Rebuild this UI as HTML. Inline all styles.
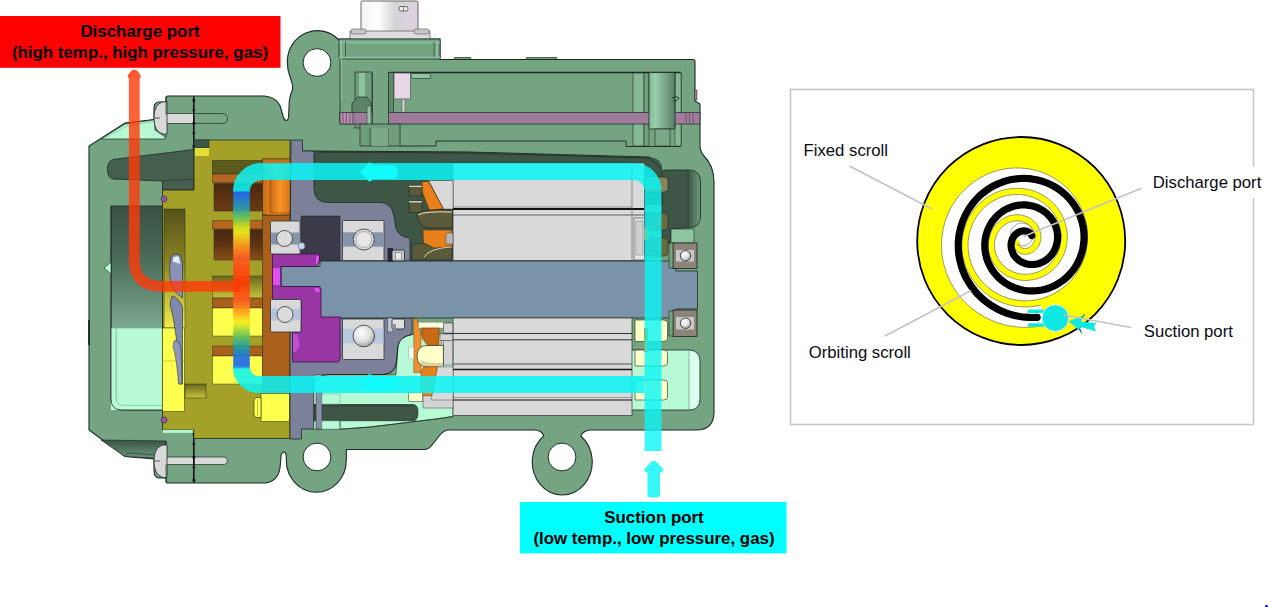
<!DOCTYPE html>
<html lang="en"><head><meta charset="utf-8"><title>Scroll compressor refrigerant flow</title>
<style>html,body{margin:0;padding:0;background:#fff;overflow:hidden}body{width:1268px;height:607px;font-family:"Liberation Sans",sans-serif}.t{font-family:"Liberation Sans",sans-serif}</style>
</head><body>
<svg width="1268" height="607" viewBox="0 0 1268 607" style="display:block">
<defs>
<linearGradient id="gConn" x1="0" y1="0" x2="1" y2="0"><stop offset="0" stop-color="#f4f4f4"/><stop offset="0.3" stop-color="#ffffff"/><stop offset="0.6" stop-color="#d4d4d8"/><stop offset="1" stop-color="#e0cfe0"/></linearGradient>
<linearGradient id="gCham" x1="0" y1="0" x2="0" y2="1"><stop offset="0" stop-color="#3a5244"/><stop offset="0.25" stop-color="#4a6a58"/><stop offset="1" stop-color="#b2f0cc"/></linearGradient>
<linearGradient id="gOlv" x1="0" y1="0" x2="0" y2="1"><stop offset="0" stop-color="#55521a"/><stop offset="0.45" stop-color="#8a8424"/><stop offset="1" stop-color="#f4ee4a"/></linearGradient>
<linearGradient id="gOlv2" x1="0" y1="0" x2="0" y2="1"><stop offset="0" stop-color="#6a661e"/><stop offset="1" stop-color="#c8c23a"/></linearGradient>
<linearGradient id="gOr" x1="0" y1="0" x2="1" y2="0"><stop offset="0" stop-color="#c86a14"/><stop offset="0.5" stop-color="#f89426"/><stop offset="1" stop-color="#d87618"/></linearGradient>
<linearGradient id="gWedge" x1="0" y1="0" x2="0" y2="1"><stop offset="0" stop-color="#3a5244"/><stop offset="1" stop-color="#6a987a"/></linearGradient>
<linearGradient id="gFlow" x1="0" y1="190" x2="0" y2="370" gradientUnits="userSpaceOnUse">
<stop offset="0" stop-color="#22e8f0"/><stop offset="0.012" stop-color="#2268f0"/><stop offset="0.05" stop-color="#2080d8"/><stop offset="0.10" stop-color="#2a9cb0"/><stop offset="0.15" stop-color="#60c060"/><stop offset="0.20" stop-color="#c8e020"/><stop offset="0.235" stop-color="#f4f01c"/><stop offset="0.31" stop-color="#ff9a20"/><stop offset="0.38" stop-color="#ff5c20"/><stop offset="0.51" stop-color="#ff3a00"/><stop offset="0.61" stop-color="#ff5c20"/><stop offset="0.67" stop-color="#ff9a20"/><stop offset="0.735" stop-color="#f4f01c"/><stop offset="0.80" stop-color="#78c850"/><stop offset="0.87" stop-color="#20a0a0"/><stop offset="0.93" stop-color="#2070e0"/><stop offset="0.975" stop-color="#2268f0"/><stop offset="1" stop-color="#22f0e0"/></linearGradient>
<linearGradient id="gCavR" x1="0" y1="0" x2="1" y2="0"><stop offset="0" stop-color="#3e5646"/><stop offset="1" stop-color="#6a987a"/></linearGradient>
<linearGradient id="gBr1" x1="0" y1="0" x2="0" y2="1"><stop offset="0" stop-color="#4a2810"/><stop offset="1" stop-color="#6a3c14"/></linearGradient>
<linearGradient id="gBr2" x1="0" y1="0" x2="0" y2="1"><stop offset="0" stop-color="#4a2810"/><stop offset="0.5" stop-color="#5e3412"/><stop offset="1" stop-color="#8a5018"/></linearGradient>
<linearGradient id="gCyl" x1="0" y1="0" x2="1" y2="0"><stop offset="0" stop-color="#86b896"/><stop offset="0.25" stop-color="#98ceac"/><stop offset="1" stop-color="#587e66"/></linearGradient>
<radialGradient id="gBall" cx="0.4" cy="0.35" r="0.7"><stop offset="0" stop-color="#ffffff"/><stop offset="0.6" stop-color="#dcdcdc"/><stop offset="1" stop-color="#9a9a9a"/></radialGradient>
</defs>
<path d="M89,430 L89,146 L125,123 L154,119.5 L154,108 Q154,102 159,102 L166,102 L166,98 Q166,96 168,96 L264,96 Q276,97 280,105.5 L283.3,117 Q284.5,120.5 286.4,120.5 Q288.2,120.5 288.6,116 L289.3,101 Q290.2,95 292.6,89 C293.5,80 286.8,76 287.3,61 A30.2,31.3 0 0 1 339,40 L339,39 L440,39 L440,59.5 L693,59.5 Q695,59.5 695,61.5 L695,101 L700,104 L700,146 Q700,151 704,156 Q714,166 714,182 L714,412 Q714,430 696,430 L592,430 Q583,430 580.8,436 A30,33 0 1 1 543.7,436 Q542,430 534,430 L449,430 Q444,430 440,435 L432,445 Q429,449.5 424,449.5 L346.3,449.5 L346.3,460 A30,32.3 0 0 1 286.3,460 L286.3,455.5 Q285.5,451.8 283.3,452 Q281,453 281,457 L280,468 Q278,481 266,483 L168,483 Q166,483 166,481 L166,478 L159,478 Q154,478 154,470 L154,459 L125,456.5 Z" fill="#74a482" stroke="#1c2a22" stroke-width="1.1" />
<circle cx="317" cy="62.5" r="13.9" fill="#fff" stroke="#1c2a22" stroke-width="1"/>
<circle cx="317" cy="457" r="13.9" fill="#fff" stroke="#1c2a22" stroke-width="1"/>
<circle cx="562" cy="457" r="13.9" fill="#fff" stroke="#1c2a22" stroke-width="1"/>
<rect x="361" y="1" width="57" height="34" fill="url(#gConn)" rx="1.5" stroke="#444" stroke-width="0.8" />
<rect x="350" y="31" width="80" height="8" fill="#dcdcdc" stroke="#555" stroke-width="0.7" />
<rect x="351" y="29" width="15" height="5" fill="#c8c8c8" rx="2" stroke="#555" stroke-width="0.6" />
<rect x="414" y="29" width="15" height="5" fill="#c8c8c8" rx="2" stroke="#555" stroke-width="0.6" />
<rect x="399" y="6.5" width="9" height="4.5" fill="#eee" rx="2" stroke="#333" stroke-width="0.7" />
<line x1="403.5" y1="6.5" x2="403.5" y2="11" stroke="#333" stroke-width="0.6"/>
<rect x="339" y="39" width="101" height="20" fill="#74a482" rx="1.5" stroke="#1c2a22" stroke-width="0.8" />
<line x1="339" y1="42.5" x2="440" y2="42.5" stroke="#8fc4a2" stroke-width="1.6"/>
<line x1="341" y1="40" x2="341" y2="100" stroke="#8fc4a2" stroke-width="1.6"/>
<line x1="345.5" y1="42" x2="345.5" y2="58" stroke="#1c2a22" stroke-width="0.6"/>
<line x1="434" y1="42" x2="434" y2="58" stroke="#1c2a22" stroke-width="0.6"/>
<line x1="437" y1="42" x2="437" y2="58" stroke="#8fc4a2" stroke-width="1.5"/>
<line x1="339" y1="57.5" x2="440" y2="57.5" stroke="#8fc4a2" stroke-width="1.4"/>
<line x1="389" y1="72.5" x2="681" y2="72.5" stroke="#1c2a22" stroke-width="1.3"/>
<line x1="681" y1="72.5" x2="681" y2="146" stroke="#1c2a22" stroke-width="0.8"/>
<line x1="340" y1="59" x2="340" y2="124" stroke="#1c2a22" stroke-width="0.8"/>
<rect x="355" y="72" width="17" height="56" fill="#6e9c7c" stroke="#1c2a22" stroke-width="0.7" />
<rect x="359" y="73" width="6" height="39" fill="#8fc4a2" />
<path d="M352,112 L352,103 L358,97 L367,97 L371,103 L371,112" fill="#5c8468" stroke="#1c2a22" stroke-width="0.7" />
<rect x="388.5" y="72.5" width="5" height="55.5" fill="#5f8a6c" stroke="#1c2a22" stroke-width="0.6" />
<rect x="394" y="73" width="16.5" height="26" fill="#e6d6e6" stroke="#555" stroke-width="0.7" />
<rect x="402" y="99" width="3" height="13" fill="#d0d0d0" stroke="#555" stroke-width="0.5" />
<path d="M411,73.5 L430,73.5 Q431.5,76 430,78.5 L413,78.5 Q411,78 411,75z" fill="#8fc4a2" stroke="#1c2a22" stroke-width="0.6" />
<rect x="633" y="73" width="11" height="73" fill="#86b896" stroke="#1c2a22" stroke-width="0.6" />
<rect x="644" y="73" width="5" height="73" fill="#6e9c7c" stroke="#1c2a22" stroke-width="0.5" />
<rect x="675" y="73" width="6" height="73" fill="#86b896" stroke="#1c2a22" stroke-width="0.5" />
<rect x="340" y="112.5" width="360" height="11.5" fill="#a07c9c" stroke="#1c2a22" stroke-width="0.7" />
<path d="M340,112.5 h13 v11.5 h-13 z" fill="#b58db0" stroke="#1c2a22" stroke-width="0.6" />
<line x1="343" y1="112.5" x2="343" y2="124" stroke="#6a4c66" stroke-width="0.8"/>
<line x1="346.5" y1="112.5" x2="346.5" y2="124" stroke="#6a4c66" stroke-width="0.8"/>
<line x1="350" y1="112.5" x2="350" y2="124" stroke="#6a4c66" stroke-width="0.8"/>
<line x1="686" y1="112.5" x2="686" y2="124" stroke="#6a4c66" stroke-width="0.8"/>
<line x1="689.5" y1="112.5" x2="689.5" y2="124" stroke="#6a4c66" stroke-width="0.8"/>
<line x1="693" y1="112.5" x2="693" y2="124" stroke="#6a4c66" stroke-width="0.8"/>
<rect x="367" y="106" width="4" height="22" fill="#8fc4a2" stroke="#1c2a22" stroke-width="0.5" />
<rect x="372.5" y="73" width="16" height="55" fill="#74a482" />
<line x1="372.5" y1="73" x2="372.5" y2="128" stroke="#1c2a22" stroke-width="0.7"/>
<line x1="388.5" y1="73" x2="388.5" y2="128" stroke="#1c2a22" stroke-width="0.7"/>
<rect x="360" y="124" width="40" height="22" fill="#6e9c7c" stroke="#1c2a22" stroke-width="0.7" />
<line x1="370" y1="128" x2="370" y2="146" stroke="#1c2a22" stroke-width="0.6"/>
<line x1="388" y1="128" x2="388" y2="146" stroke="#1c2a22" stroke-width="0.6"/>
<rect x="372" y="128" width="16" height="18" fill="#7aa888" />
<path d="M400,146 L436,146 L436,141 L626,141 L626,146.5 L681,146.5" fill="none" stroke="#1c2a22" stroke-width="0.9" />
<rect x="649" y="72.5" width="26" height="56.5" fill="url(#gCyl)" rx="1" stroke="#1c2a22" stroke-width="0.8" />
<rect x="655" y="129" width="15" height="17" fill="#7aa888" stroke="#1c2a22" stroke-width="0.6" />
<path d="M672,98 q4,-3 7,0 q-2,4 -6,3" fill="none" stroke="#1c2a22" stroke-width="0.9" />
<rect x="694.5" y="90" width="2.5" height="10" fill="#a07c9c" stroke="#1c2a22" stroke-width="0.5" />
<path d="M454,59 l0.5,-1.5 h16 l0.5,1.5 M526,59 l0.5,-1.5 h30 l0.5,1.5" fill="#74a482" stroke="#1c2a22" stroke-width="0.7" />
<path d="M314,151 L470,152 L650,157 Q660,158 662,166 L662,205 L453,205 L453,261 L314,261 Z" fill="#3e5646" />
<line x1="302.5" y1="151" x2="470" y2="152" stroke="#1c2a22" stroke-width="1"/>
<line x1="470" y1="152" x2="650" y2="157" stroke="#1c2a22" stroke-width="0.9"/>
<path d="M318,152 L470,153 L650,158" fill="none" stroke="#2a3c30" stroke-width="1.5" />
<path d="M662,172 Q662,170 665,170 L690,170 Q700.5,171 700.5,182 L700.5,216 Q700.5,227.5 690,227.5 L671,229 L671,243 L662,243 Z" fill="#3e5646" stroke="#1c2a22" stroke-width="0.8" />
<path d="M688,170.5 L690,170.5 Q700,171.5 700,182 L700,216 Q700,227 690,227 L688,227 Z" fill="url(#gCavR)" />
<line x1="688" y1="171" x2="688" y2="227" stroke="#2c3e32" stroke-width="0.8"/>
<path d="M662,169.5 L650,158" fill="none" stroke="#1c2a22" stroke-width="0.8" />
<path d="M671,229 L694,229 L694,243 L671,243 Z" fill="#8fc4a2" stroke="#1c2a22" stroke-width="0.6" />
<path d="M630,350 L690,350 Q700,351 700,361 L700,399 Q700,410 689,410 L630,410 Z" fill="#b9fad6" stroke="#1c2a22" stroke-width="0.8" />
<path d="M689,351 L690,351 Q699,352 699,361 L699,399 Q699,409 689,409 Z" fill="#dcfff0" />
<line x1="689" y1="351" x2="689" y2="409" stroke="#6a9c80" stroke-width="0.7"/>
<path d="M101,139 L125,124 L154.5,119.8 L155,130 L166,137.5 L164,139 Z" fill="#b9fad6" stroke="#1c2a22" stroke-width="0.7" />
<path d="M104,138.5 L127,126 L154,121.5" fill="none" stroke="#8ccca8" stroke-width="0.9" />
<path d="M113,159.5 L194,149.5 L194,190 L162.5,190 L162.5,181 L113,179 Q107.5,178 107.5,169.5 Q107.5,161 113,159.5 Z" fill="#455f4e" stroke="#1c2a22" stroke-width="0.8" />
<path d="M162.5,181 L194,179" fill="none" stroke="#2c3e32" stroke-width="0.8" />
<path d="M111,206 L162.5,206 L162.5,410 L122,410 Q111,410 111,399 Z" fill="url(#gCham)" stroke="#1c2a22" stroke-width="0.8" />
<rect x="111" y="328" width="51.5" height="82" fill="#b9fad6" />
<path d="M111,328 L162.5,328" fill="none" stroke="#7ab894" stroke-width="0.8" />
<path d="M111,399 Q111,410 122,410 L162.5,410 L162.5,400 L122,400 Z" fill="#b9fad6" />
<line x1="116.5" y1="328" x2="116.5" y2="402" stroke="#8ccca8" stroke-width="0.9"/>
<path d="M111,206 L111,399 Q111,410 122,410 L162.5,410" fill="none" stroke="#1c2a22" stroke-width="0.8" />
<path d="M116,330 L116,398 Q116,405.5 124,405.5 L162,405.5" fill="none" stroke="#8ccca8" stroke-width="0.9" />
<path d="M111,262 L104,268 L111,274 Z" fill="#b9fad6" stroke="#1c2a22" stroke-width="0.6" />
<line x1="89" y1="320" x2="89" y2="345" stroke="#111" stroke-width="1.4"/>
<path d="M101,440 L166,441 L166,446 L155,458 L125,456.5 Z" fill="url(#gWedge)" stroke="#1c2a22" stroke-width="0.7" />
<path d="M125,456.5 L128,453 L155,455" fill="none" stroke="#2c3e32" stroke-width="0.7" />
<line x1="166" y1="119.5" x2="166" y2="137.5" stroke="#1c2a22" stroke-width="0.7"/>
<rect x="166" y="113.6" width="28" height="9.8" fill="#d9d9d9" stroke="#1c2a22" stroke-width="0.7" />
<path d="M194,113.6 L222.5,113.6 Q227.5,113.6 227.5,118.5 Q227.5,123.4 222.5,123.4 L194,123.4" fill="#78a886" stroke="#1c2a22" stroke-width="0.7" />
<path d="M167,101.8 L163,101.8 Q154,104 154,118 Q154,132 163,134 L167,134 Z" fill="#d9d9d9" stroke="#1c2a22" stroke-width="0.8" />
<line x1="154" y1="118" x2="160" y2="118" stroke="#1c2a22" stroke-width="0.7"/>
<rect x="166" y="457" width="28" height="7.5" fill="#d9d9d9" stroke="#1c2a22" stroke-width="0.7" />
<path d="M194,457 L224,457 Q227.5,457 227.5,460.7 Q227.5,464.5 224,464.5 L194,464.5 Z" fill="#d9d9d9" stroke="#1c2a22" stroke-width="0.7" />
<path d="M167,445 L163,445 Q154,447 154,461 Q154,475 163,477.5 L167,477.5 Z" fill="#d9d9d9" stroke="#1c2a22" stroke-width="0.8" />
<line x1="154" y1="461" x2="160" y2="461" stroke="#1c2a22" stroke-width="0.7"/>
<line x1="166" y1="96.5" x2="166" y2="114.5" stroke="#1c2a22" stroke-width="0.7"/>
<line x1="166" y1="464.5" x2="166" y2="482" stroke="#1c2a22" stroke-width="0.7"/>
<path d="M193.8,96.5 L193.8,150" fill="none" stroke="#0a0a0a" stroke-width="1.5" />
<path d="M193.8,430 L193.8,482.5" fill="none" stroke="#0a0a0a" stroke-width="1.5" />
<path d="M193.9,99 L193.9,150 M193.9,433 L193.9,482" fill="none" stroke="#0a0a0a" stroke-width="2.6" stroke-dasharray="2.5 8 1.5 11"/>
<path d="M166,441 L166,445 M162.5,430 L193.8,430" fill="none" stroke="#1c2a22" stroke-width="0.8" />
<path d="M194,140 L290,140 L290,438.5 L193.8,438.5 L193.8,430 L162.5,430 L162.5,190 L194,190 Z" fill="#a5a028" stroke="#1c2a22" stroke-width="0.8" />
<rect x="194" y="140" width="15" height="8" fill="#3e5646" stroke="#1c2a22" stroke-width="0.5" />
<rect x="195" y="148" width="14" height="8" fill="#e4de3a" />
<rect x="164" y="209" width="21" height="119" fill="url(#gOlv)" stroke="#1c2a22" stroke-width="0.5" />
<rect x="162.5" y="328" width="22" height="83.5" fill="#ffff4d" stroke="#1c2a22" stroke-width="0.5" />
<line x1="162.5" y1="361" x2="184" y2="361" stroke="#b8b430" stroke-width="0.7"/>
<rect x="185" y="384" width="21" height="14" fill="url(#gOlv2)" stroke="#1c2a22" stroke-width="0.5" />
<rect x="162.8" y="430" width="30.2" height="3" fill="#b9fad6" stroke="#7ab894" stroke-width="0.4" />
<circle cx="164" cy="199" r="3" fill="#a050b0" stroke="#1c2a22" stroke-width="0.6"/>
<circle cx="164" cy="420" r="3" fill="#a050b0" stroke="#1c2a22" stroke-width="0.6"/>
<path d="M171,257 Q175,252 180,255 L182.5,262 L182.5,298 Q176,294 171.5,286 Q168,272 171,257 Z" fill="#8a90b8" stroke="#1c2a22" stroke-width="0.6" />
<path d="M173,258 Q176,255 179,257 L180,264 Q176,262 173,262 Z" fill="#e8ecff" />
<path d="M172,296 Q178,297 182.5,307 L182.5,384 L179.5,384 Q177.5,330 170,304 Z" fill="#8088b0" stroke="#1c2a22" stroke-width="0.6" />
<path d="M174,341 Q178,339 181,347 L182,384 L178.5,384 Q176.5,356 173,347 Z" fill="#9096be" stroke="#1c2a22" stroke-width="0.5" />
<rect x="212.5" y="160.5" width="50" height="13.5" fill="#5c5a1c" stroke="#1c2a22" stroke-width="0.5" />
<rect x="212.5" y="174" width="50" height="8.8" fill="#b5651d" stroke="#1c2a22" stroke-width="0.4" />
<rect x="214" y="183.5" width="48.5" height="27.5" fill="url(#gBr1)" stroke="#1c2a22" stroke-width="0.5" />
<rect x="212.5" y="220.5" width="50" height="8.5" fill="#b5651d" stroke="#1c2a22" stroke-width="0.4" />
<rect x="214" y="229.5" width="48.5" height="30.5" fill="url(#gBr2)" stroke="#1c2a22" stroke-width="0.5" />
<rect x="212.5" y="276" width="50" height="22" fill="url(#gOlv2)" stroke="#1c2a22" stroke-width="0.4" />
<rect x="212.5" y="298" width="50" height="10" fill="#a8601a" stroke="#1c2a22" stroke-width="0.4" />
<rect x="212.5" y="308" width="50" height="28" fill="#ffff4d" stroke="#1c2a22" stroke-width="0.4" />
<rect x="212.5" y="346" width="50" height="10" fill="#a8601a" stroke="#1c2a22" stroke-width="0.4" />
<rect x="212.5" y="356" width="50" height="28" fill="#ffff4d" stroke="#1c2a22" stroke-width="0.4" />
<rect x="262.5" y="215" width="27.5" height="177" fill="#a8601a" stroke="#1c2a22" stroke-width="0.5" />
<rect x="262.5" y="159" width="27.5" height="56" fill="url(#gOr)" stroke="#1c2a22" stroke-width="0.6" />
<rect x="262.5" y="159" width="27.5" height="5" fill="#c87018" stroke="#1c2a22" stroke-width="0.4" />
<rect x="270" y="178" width="20" height="35" fill="url(#gOr)" rx="2" stroke="#7a4210" stroke-width="0.6" />
<rect x="261" y="393.5" width="28.5" height="28" fill="#ffff4d" stroke="#1c2a22" stroke-width="0.5" />
<path d="M261,397.5 L257,397.5 Q254,397.5 254,401 L254,414 Q254,417.5 257,417.5 L261,417.5 Z" fill="#ffff4d" stroke="#1c2a22" stroke-width="0.6" />
<line x1="257.5" y1="399.5" x2="257.5" y2="415.5" stroke="#a8a430" stroke-width="0.7"/>
<path d="M291,140 L302.5,140 L302.5,151 L314,151 L314,188 Q314,202.5 328,202.5 L381,202.5 Q391,203 393.5,214 L396,228 Q398,236.5 410,238 L410,261 L290,261 Z" fill="#7c8098" stroke="#1c2a22" stroke-width="0.8" />
<path d="M290,362 L290,439 L301.5,439 L301.5,429 L313.8,429 L313.8,390 Q314,375 328,374.5 L383,374.5 Q395,374 396.5,362 L398,346 Q399.5,337 412,334.5 L412,318 L290,318 Z" fill="#7c8098" stroke="#1c2a22" stroke-width="0.8" />
<rect x="301" y="216" width="39" height="45" fill="#3a3a48" stroke="#1c2a22" stroke-width="0.5" />
<path d="M281,266.5 L320,266.5 L320,261 L672,261 L672,268 L676,268 L676,271 L697.5,271 L697.5,309 L676,309 L676,311 L672,311 L672,318 L320,318 L320,286.5 L281,286.5 Z" fill="#7b93a9" stroke="#1c2a22" stroke-width="0.8" />
<path d="M272.5,254 L319.5,254 L319.5,262 L316,266.5 L281,266.5 L281,286.5 L319.5,286.5 L321,289 L321,317 L340,317 L340,360 L338,362 L292.5,362 L292.5,332 L301,332 L301,299.5 L272.5,299.5 Z" fill="#9a35a5" stroke="#3a1040" stroke-width="0.8" />
<path d="M273,268 L280,268 L280,285 L273,285 Z" fill="#e04ff0" />
<path d="M316,256 L319,256 L319,261 L316,265 Z" fill="#e04ff0" />
<path d="M314,288 L319,288 L320,292 L316,292 Z" fill="#e04ff0" />
<path d="M293,334 L297,334 L300,345 L296,352 L293,352 Z" fill="#c04fd0" />
<rect x="270.5" y="221" width="29.5" height="33" fill="#d9d9d9" rx="1.2" stroke="#333" stroke-width="0.8" />
<rect x="271.1" y="232.56" width="28.3" height="11.88" fill="#8494aa" />
<circle cx="284.5" cy="238.5" r="8" fill="#dcdcdc" stroke="#333" stroke-width="0.8"/>
<rect x="270.5" y="299.5" width="30.5" height="32.5" fill="#d9d9d9" rx="1.2" stroke="#333" stroke-width="0.8" />
<rect x="271.1" y="308.65" width="29.3" height="11.7" fill="#b4c4dc" />
<circle cx="285" cy="314.5" r="8" fill="#dcdcdc" stroke="#333" stroke-width="0.8"/>
<circle cx="301.5" cy="246" r="3.5" fill="#c8d4ee" stroke="#556" stroke-width="0.5"/>
<rect x="342.5" y="220.5" width="41.5" height="40" fill="#d9d9d9" rx="1.2" stroke="#333" stroke-width="0.8" />
<rect x="343.1" y="232.3" width="40.3" height="14.4" fill="#8494aa" />
<circle cx="363.8" cy="239.5" r="10.5" fill="#dcdcdc" stroke="#333" stroke-width="0.8"/>
<circle cx="363.8" cy="239.5" r="8" fill="#e6e6e6" stroke="#888" stroke-width="0.6"/>
<rect x="342.5" y="319" width="41.5" height="40.5" fill="#d9d9d9" rx="1.2" stroke="#333" stroke-width="0.8" />
<rect x="343.1" y="328.71" width="40.3" height="14.58" fill="#b8c8e0" />
<circle cx="363.8" cy="336" r="10.8" fill="url(#gBall)" stroke="#333" stroke-width="0.8"/>
<rect x="387.5" y="248" width="5.5" height="14" fill="#2a2a34" />
<rect x="392" y="250" width="12.5" height="11" fill="#c8c8c8" rx="2" stroke="#222" stroke-width="0.8" />
<rect x="395.5" y="252.5" width="6" height="7.5" fill="#e8e8e8" stroke="#555" stroke-width="0.5" />
<rect x="387.5" y="318" width="5.5" height="14" fill="#b8c4dc" stroke="#333" stroke-width="0.5" />
<rect x="392" y="319" width="12.5" height="10" fill="#e0e0e0" rx="1.5" stroke="#222" stroke-width="0.8" />
<rect x="393" y="324" width="3" height="6" fill="#909090" />
<path d="M313.8,375 L396,375 L398,346 Q399.5,337 412,334.5 L420,334.5 L453,334.5 L453,416.5 L436,419 L370,427 L340,429.5 L313.8,429.5 Z" fill="#b9fad6" stroke="#1c2a22" stroke-width="0.6" />
<path d="M313.8,390 Q314,375 328,374.5 L383,374.5 Q395,374 396.5,362 L398,346 Q399.5,337 412,334.5" fill="none" stroke="#1c2a22" stroke-width="0.8" />
<path d="M314,404.5 L413,404.5 Q418,404.5 418,412.5 Q418,420.7 413,420.7 L314,420.7 Z" fill="#3e5646" stroke="#1c2a22" stroke-width="0.7" />
<path d="M314,406 L412,406" fill="none" stroke="#2a3a30" stroke-width="1.2" />
<rect x="316" y="392" width="6" height="37" fill="#8a90a8" stroke="#1c2a22" stroke-width="0.5" />
<rect x="322" y="394" width="18" height="10" fill="#b9fad6" stroke="#7ab894" stroke-width="0.6" />
<rect x="322" y="421" width="18" height="8" fill="#b9fad6" stroke="#7ab894" stroke-width="0.6" />
<path d="M340,420.7 L340,429 M340,429 L370,427 L436,419 L453,416.5" fill="none" stroke="#1c2a22" stroke-width="0.7" />
<rect x="453" y="163" width="191.5" height="97.5" fill="#d9d9d9" stroke="#333" stroke-width="0.7" />
<rect x="453" y="318" width="179" height="97.5" fill="#d9d9d9" stroke="#333" stroke-width="0.7" />
<line x1="453" y1="209" x2="644" y2="209" stroke="#111" stroke-width="1.8"/>
<line x1="453" y1="215" x2="644" y2="215" stroke="#444" stroke-width="0.8"/>
<line x1="453" y1="207" x2="632" y2="207" stroke="#666" stroke-width="0.6"/>
<line x1="632" y1="163" x2="632" y2="260" stroke="#666" stroke-width="0.7"/>
<rect x="634" y="218" width="10.5" height="42" fill="#e4e4e4" stroke="#555" stroke-width="0.7" />
<rect x="636" y="221" width="7" height="34" fill="#d0d0d0" stroke="#777" stroke-width="0.5" />
<line x1="444" y1="333.5" x2="632" y2="333.5" stroke="#333" stroke-width="1"/>
<line x1="444" y1="339.8" x2="632" y2="339.8" stroke="#333" stroke-width="1"/>
<line x1="453" y1="364" x2="632" y2="364" stroke="#444" stroke-width="0.9"/>
<line x1="453" y1="369.5" x2="632" y2="369.5" stroke="#111" stroke-width="1.3"/>
<line x1="453" y1="400" x2="632" y2="400" stroke="#111" stroke-width="1.2"/>
<line x1="453" y1="397.5" x2="632" y2="397.5" stroke="#777" stroke-width="0.6"/>
<rect x="444" y="323" width="9" height="10" fill="#cfcfcf" stroke="#444" stroke-width="0.6" />
<rect x="441" y="340" width="12" height="20" fill="#cfcfcf" stroke="#444" stroke-width="0.6" />
<rect x="423" y="392" width="30" height="16" fill="#d4d4d4" stroke="#555" stroke-width="0.6" />
<path d="M428.6,180.5 L453,180.5 L453,209 L443.4,209 Z" fill="#d9d9d9" stroke="#444" stroke-width="0.5" />
<path d="M422,181.5 L428.6,181.5 L443.4,208.7 L429.4,210.4 L422,191.4 Z" fill="#e8801c" stroke="#5a300a" stroke-width="0.7" />
<rect x="409" y="185.5" width="13" height="10.5" fill="#5a5a3a" stroke="#1c2a22" stroke-width="0.6" />
<rect x="409" y="201" width="13" height="11.5" fill="#5a5a3a" stroke="#1c2a22" stroke-width="0.6" />
<line x1="409" y1="186.3" x2="422" y2="186.3" stroke="#e8e8d8" stroke-width="1.2"/>
<line x1="409" y1="201.8" x2="422" y2="201.8" stroke="#e8e8d8" stroke-width="1.2"/>
<path d="M417,215 Q420,210 432,210 L452.5,210 L452.5,228 L428,228 Q418,226 417,215 Z" fill="#5a5a3a" stroke="#1c2a22" stroke-width="0.7" />
<path d="M418,215 Q424,211 452,212" fill="none" stroke="#e8e8c0" stroke-width="1" />
<path d="M423,230 L452,230 L452,246 L432,249 L424,256 Z" fill="#e8801c" stroke="#5a300a" stroke-width="0.6" />
<path d="M412,245 L424,243 L434,248 L452,248 L452,260 L412,260 Z" fill="#5a5a3a" stroke="#1c2a22" stroke-width="0.6" />
<path d="M424,257 Q430,248 452,247" fill="none" stroke="#e8e8c0" stroke-width="0.9" />
<rect x="446" y="233" width="7" height="11" fill="#b8b8b8" stroke="#444" stroke-width="0.5" />
<path d="M413.8,319 L417,319 L421,334 L421,372.6 L413.8,372.6 Z" fill="#f09030" stroke="#7a4210" stroke-width="0.5" />
<rect x="418.7" y="322.4" width="24.7" height="5.6" fill="#fffde0" stroke="#998" stroke-width="0.4" />
<path d="M422,328 L439,328 L439,346 L428,346 L422,338 Z" fill="#c86a14" stroke="#5a300a" stroke-width="0.5" />
<rect x="443.4" y="323" width="9.4" height="10" fill="#d4d4d4" stroke="#444" stroke-width="0.5" />
<rect x="440" y="334" width="12.8" height="6.5" fill="#d4d4d4" stroke="#444" stroke-width="0.5" />
<rect x="443.4" y="340.5" width="9.4" height="24.5" fill="#d4d4d4" stroke="#444" stroke-width="0.5" />
<path d="M417,356 Q417,345.4 428,345.4 L443.4,345.4 L443.4,366.8 L428,366.8 Q417,366.8 417,356 Z" fill="#ffffc8" stroke="#1c2a22" stroke-width="0.7" />
<path d="M420,360 Q428,364 443,362.5 L443,366.5 L428,366.5 Q421,366 420,360 Z" fill="#d8d49a" />
<path d="M423.6,366.8 L437.6,366.8 L432,395.7 L421,395.7 L421,372.6 Z" fill="#e8801c" stroke="#5a300a" stroke-width="0.5" />
<path d="M432,395.7 L437.6,366.8 L453,366.8 L453,400 L431,400 Z" fill="#d9d9d9" stroke="#555" stroke-width="0.5" />
<rect x="408.8" y="347" width="5" height="11.6" fill="#f4fff8" stroke="#8a8" stroke-width="0.4" />
<rect x="408.8" y="392.4" width="14" height="9" fill="#ffffc8" stroke="#1c2a22" stroke-width="0.5" />
<path d="M645,177 L664,177 Q668,177 668,180 L668,189 Q668,192 664,192 L645,192 Z" fill="#8a8458" stroke="#1c2a22" stroke-width="0.6" />
<path d="M645,213 L664,213 Q668,213 668,216 L668,227 Q668,230 664,230 L645,230 Z" fill="#6a6a40" stroke="#1c2a22" stroke-width="0.6" />
<path d="M645,238 L664,238 Q668,238 668,241 L668,253 Q668,256 664,256 L645,256 Z" fill="#6a6a40" stroke="#1c2a22" stroke-width="0.6" />
<path d="M635,320 L663.5,320 Q667.5,320 667.5,323 L667.5,338.5 Q667.5,341.5 663.5,341.5 L635,341.5 Z" fill="#ffffc8" stroke="#1c2a22" stroke-width="0.6" />
<path d="M635,350 L663.5,350 Q667.5,350 667.5,353 L667.5,363 Q667.5,366 663.5,366 L635,366 Z" fill="#ffffc8" stroke="#1c2a22" stroke-width="0.6" />
<path d="M635,380 L663.5,380 Q667.5,380 667.5,383 L667.5,397 Q667.5,400 663.5,400 L635,400 Z" fill="#ffffc8" stroke="#1c2a22" stroke-width="0.6" />
<rect x="644" y="228" width="5" height="12" fill="#e8801c" />
<rect x="644" y="328" width="4" height="24" fill="#e8801c" />
<rect x="673" y="243" width="24" height="25.5" fill="#8c8478" stroke="#222" stroke-width="0.8" />
<rect x="676" y="250" width="18" height="11.5" fill="#c8c8c8" />
<circle cx="685.5" cy="255.75" r="5.2" fill="url(#gBall)" stroke="#222" stroke-width="0.8"/>
<rect x="673" y="310" width="24" height="26.5" fill="#8c8478" stroke="#222" stroke-width="0.8" />
<rect x="676" y="317" width="18" height="12.5" fill="#c8c8c8" />
<circle cx="685.5" cy="323.25" r="5.2" fill="url(#gBall)" stroke="#222" stroke-width="0.8"/>
<path d="M669,243 L673,243 L673,268 L669,268 Z M669,311 L673,311 L673,336 L669,336 Z" fill="#74a482" stroke="#1c2a22" stroke-width="0.6" />
<rect x="644.6" y="190.5" width="16.9" height="260.5" fill="rgba(10,245,245,0.8)"/>
<path d="M653,190.5 A19,19 0 0 0 634,171.5 L261,171.5 A19.5,19.5 0 0 0 241.5,191 L241.5,192" fill="none" stroke="rgba(10,245,245,0.86)" stroke-width="17"/>
<path d="M241.5,367 L241.5,367.5 A17,17 0 0 0 258.5,384.5 L644.5,384.5" fill="none" stroke="rgba(10,245,245,0.86)" stroke-width="17"/>
<rect x="233.2" y="190.5" width="16.6" height="178" fill="url(#gFlow)" opacity="0.93"/>
<path d="M360,172 L369,162.5 Q371,162 373,165 L394,165 Q398,165 398,172 Q398,179 394,179 L373,179 Q371,182 369,181.5 Z" fill="#12fafa"/>
<path d="M360,383.5 L369,374 Q371,373.5 373,376.5 L394,376.5 Q398,376.5 398,383.5 Q398,390.5 394,390.5 L373,390.5 Q371,393.5 369,393 Z" fill="#12fafa"/>
<path d="M653.7,461 Q655,460.5 656.5,462 L663,469 Q664,471 662,472 L660,472 L660,494 Q660,497.5 656.5,497.5 L651,497.5 Q647.5,497.5 647.5,494 L647.5,472 L645.5,472 Q643.5,471 644.5,469 L651,462 Q652.5,460.5 653.7,461 Z" fill="#35f7f7"/>
<path d="M134.3,76 L134.3,260 Q134.3,286.3 162,286.3 L240,286.3" fill="none" stroke="rgba(255,58,8,0.8)" stroke-width="10.8"/>
<path d="M134.3,69.5 Q136,69.5 137.5,71 L140.5,75 Q141.5,77.5 139.7,78.5 L128.9,78.5 Q127,77.5 128,75 L131,71 Q132.5,69.5 134.3,69.5 Z" fill="#ff5a32"/>
<rect x="790.5" y="89.5" width="463" height="335" fill="#fff" stroke="#c6c6c6" stroke-width="1.6"/>
<circle cx="1021.2" cy="241.0" r="104" fill="#ffff00" stroke="#000" stroke-width="1.8"/>
<path d="M1039.0,299.2 L1043.1,298.1 L1047.2,296.7 L1051.2,295.0 L1055.0,293.1 L1058.7,290.8 L1062.3,288.3 L1065.7,285.5 L1069.0,282.5 L1072.0,279.3 L1074.8,275.8 L1077.3,272.1 L1079.6,268.2 L1081.6,264.2 L1083.4,260.0 L1084.9,255.7 L1086.0,251.3 L1086.9,246.7 L1087.4,242.2 L1087.6,237.5 L1087.5,232.9 L1087.1,228.2 L1086.3,223.6 L1085.2,219.0 L1083.8,214.4 L1082.1,210.0 L1080.0,205.7 L1077.6,201.5 L1075.0,197.5 L1072.0,193.6 L1068.8,190.0 L1065.3,186.5 L1061.6,183.4 L1057.6,180.4 L1053.4,177.8 L1049.0,175.4 L1044.5,173.4 L1039.8,171.6 L1035.0,170.2 L1030.0,169.1 L1025.0,168.4 L1019.9,168.0 L1014.8,168.0 L1009.7,168.3 L1004.6,169.0 L999.5,170.0 L994.5,171.4 L989.6,173.2 L984.8,175.3 L980.1,177.8 L975.7,180.6 L971.4,183.7 L967.3,187.1 L963.4,190.8 L959.8,194.7 L956.5,199.0 L953.5,203.4 L950.7,208.1 L948.3,213.0 L946.3,218.1 L944.6,223.3 L943.2,228.7 L942.3,234.1 L941.7,239.6 L941.5,245.2 L941.7,250.8 L942.3,256.3 L943.2,261.9 L944.6,267.4 L946.4,272.8 L948.5,278.0 L951.0,283.2 L953.9,288.1 L957.1,292.9 L960.7,297.5 L964.5,301.8 L968.7,305.8 L973.2,309.5 L978.0,313.0 L982.9,316.1 L988.2,318.8 L993.6,321.2 L999.2,323.2 L1004.9,324.9 L1010.8,326.1 L1016.7,326.9 L1022.7,327.3 L1028.7,327.3 L1034.8,326.8 L1040.8,326.0 L1046.8,324.7Z" fill="#fff"/>
<path d="M1016.9,243.0 L1016.8,243.4 L1016.7,243.9 L1016.7,244.4 L1016.7,244.9 L1016.8,245.4 L1016.9,245.9 L1017.1,246.4 L1017.3,247.0 L1017.6,247.5 L1017.9,248.0 L1018.3,248.5 L1018.8,248.9 L1019.3,249.4 L1019.8,249.8 L1020.4,250.1 L1021.0,250.5 L1021.7,250.8 L1022.4,251.0 L1023.2,251.2 L1024.0,251.3 L1024.8,251.4 L1025.6,251.4 L1026.4,251.3 L1027.3,251.1 L1028.2,250.9 L1029.0,250.7 L1029.9,250.3 L1030.7,249.9 L1031.6,249.4 L1032.4,248.8 L1033.1,248.2 L1033.9,247.4 L1034.5,246.7 L1035.2,245.8 L1035.8,244.9 L1036.3,243.9 L1036.8,242.9 L1037.2,241.8 L1037.5,240.7 L1037.7,239.6 L1037.9,238.4 L1037.9,237.1 L1037.9,235.9 L1037.8,234.6 L1037.6,233.4 L1037.2,232.1 L1036.8,230.8 L1036.3,229.6 L1035.7,228.4 L1035.0,227.2 L1034.2,226.0 L1033.3,224.9 L1032.3,223.9 L1031.2,222.9 L1030.1,222.0 L1028.8,221.1 L1027.5,220.3 L1026.1,219.7 L1024.7,219.1 L1023.2,218.6 L1021.6,218.2 L1020.0,218.0 L1018.4,217.8 L1016.7,217.8 L1015.0,217.9 L1013.3,218.1 L1011.6,218.4 L1009.9,218.9 L1008.3,219.5 L1006.6,220.2 L1005.0,221.0 L1003.4,222.0 L1001.9,223.0 L1000.5,224.2 L999.2,225.6 L997.9,227.0 L996.7,228.5 L995.6,230.1 L994.6,231.9 L993.8,233.7 L993.0,235.5 L992.4,237.5 L992.0,239.5 L991.6,241.5 L991.4,243.6 L991.4,245.7 L991.5,247.9 L991.8,250.0 L992.2,252.1 L992.8,254.2 L993.5,256.3 L994.4,258.4 L995.5,260.4 L996.6,262.3 L998.0,264.2 L999.5,266.0 L1001.1,267.7 L1002.8,269.3 L1004.7,270.7 L1006.7,272.1 L1008.8,273.3 L1011.0,274.4 L1013.3,275.3 L1015.6,276.0 L1018.1,276.6 L1020.6,277.1 L1023.1,277.3 L1025.7,277.4 L1028.3,277.3 L1030.8,277.0 L1033.4,276.5 L1036.0,275.8 L1038.5,275.0 L1041.0,273.9 L1043.4,272.7 L1045.8,271.3 L1048.0,269.8 L1050.2,268.0 L1052.2,266.1 L1054.1,264.1 L1055.9,261.9 L1057.6,259.5 L1059.0,257.1 L1060.3,254.5 L1061.5,251.8 L1062.4,249.0 L1063.2,246.2 L1063.7,243.2 L1064.1,240.3 L1064.2,237.2 L1064.1,234.2 L1063.8,231.2 L1063.3,228.1 L1062.6,225.1 L1061.7,222.1 L1060.5,219.2 L1059.1,216.4 L1057.6,213.6 L1055.8,210.9 L1053.8,208.4 L1051.7,206.0 L1049.3,203.7 L1046.8,201.6 L1044.1,199.6 L1041.3,197.9 L1038.4,196.3 L1035.3,194.9 L1032.1,193.8 L1028.8,192.8 L1025.5,192.1 L1022.1,191.6 L1018.6,191.4 L1015.1,191.4 L1011.6,191.7 L1008.1,192.2 L1004.6,192.9 L1001.2,193.9 L997.8,195.2 L994.6,196.6 L991.4,198.4 L988.3,200.3 L985.3,202.5 L982.5,204.9 L979.8,207.5 L977.4,210.3 L975.1,213.3 L973.0,216.4 L971.1,219.7 L969.5,223.2 L968.1,226.8 L966.9,230.5 L966.0,234.2 L965.4,238.1 L965.0,242.0 L964.9,245.9 L965.1,249.9 L965.6,253.8 L966.4,257.8 L967.4,261.7 L968.7,265.5 L970.3,269.2 L972.1,272.9 L974.2,276.4 L976.6,279.8 L979.2,283.0 L982.0,286.1 L985.1,288.9 L988.4,291.6 L991.8,294.0 L995.5,296.2 L999.3,298.1 L1003.2,299.8 L1007.3,301.2 L1011.5,302.3 L1015.8,303.1 L1020.1,303.7 L1024.5,303.9 L1028.9,303.8 L1033.3,303.4 L1037.7,302.7 L1042.1,301.7 L1046.4,300.3 L1050.6,298.7 L1054.7,296.8 L1058.7,294.5 L1062.5,292.0 L1066.2,289.2 L1069.6,286.2 L1072.9,282.9 L1075.9,279.3 L1078.7,275.6 L1081.3,271.6 L1083.5,267.5 L1085.5,263.1 L1087.2,258.7 L1088.5,254.1 L1089.6,249.4" fill="none" stroke="#ffff00" stroke-width="6.2" stroke-linecap="round"/>
<path d="M1019.2,242.4 L1019.1,242.7 L1019.0,243.0 L1019.0,243.4 L1019.0,243.8 L1019.0,244.2 L1019.1,244.6 L1019.2,245.0 L1019.3,245.4 L1019.6,245.8 L1019.8,246.2 L1020.1,246.5 L1020.5,246.9 L1020.9,247.2 L1021.3,247.5 L1021.8,247.8 L1022.3,248.0 L1022.9,248.2 L1023.5,248.4 L1024.1,248.5 L1024.7,248.5 L1025.4,248.5 L1026.0,248.5 L1026.7,248.3 L1027.4,248.2 L1028.1,247.9 L1028.8,247.6 L1029.5,247.2 L1030.1,246.8 L1030.8,246.3 L1031.4,245.8 L1032.0,245.1 L1032.5,244.5 L1033.0,243.7 L1033.5,242.9 L1033.9,242.1 L1034.2,241.2 L1034.5,240.3 L1034.7,239.3 L1034.9,238.3 L1034.9,237.3 L1034.9,236.3 L1034.8,235.2 L1034.6,234.1 L1034.4,233.1 L1034.0,232.0 L1033.6,230.9 L1033.1,229.9 L1032.5,228.9 L1031.8,227.9 L1031.0,226.9 L1030.2,226.0 L1029.3,225.2 L1028.3,224.4 L1027.2,223.7 L1026.0,223.0 L1024.8,222.4 L1023.5,221.9 L1022.2,221.5 L1020.9,221.2 L1019.4,221.0 L1018.0,220.8 L1016.5,220.8 L1015.1,220.9 L1013.6,221.1 L1012.1,221.4 L1010.6,221.9 L1009.1,222.4 L1007.7,223.0 L1006.3,223.8 L1004.9,224.7 L1003.6,225.7 L1002.3,226.8 L1001.1,227.9 L1000.0,229.2 L998.9,230.6 L998.0,232.1 L997.2,233.6 L996.4,235.3 L995.8,237.0 L995.3,238.7 L994.9,240.5 L994.6,242.4 L994.5,244.3 L994.5,246.2 L994.6,248.1 L994.9,250.1 L995.3,252.0 L995.9,253.9 L996.6,255.8 L997.5,257.6 L998.4,259.4 L999.6,261.2 L1000.8,262.8 L1002.2,264.4 L1003.7,266.0 L1005.4,267.4 L1007.1,268.7 L1009.0,269.9 L1010.9,270.9 L1012.9,271.9 L1015.0,272.6 L1017.2,273.3 L1019.5,273.8 L1021.8,274.1 L1024.1,274.3 L1026.5,274.3 L1028.9,274.1 L1031.2,273.8 L1033.6,273.3 L1035.9,272.6 L1038.3,271.8 L1040.5,270.8 L1042.7,269.6 L1044.9,268.2 L1046.9,266.7 L1048.9,265.1 L1050.7,263.2 L1052.5,261.3 L1054.0,259.2 L1055.5,257.0 L1056.8,254.7 L1058.0,252.2 L1058.9,249.7 L1059.8,247.1 L1060.4,244.4 L1060.8,241.7 L1061.1,238.9 L1061.1,236.1 L1061.0,233.3 L1060.6,230.4 L1060.1,227.6 L1059.3,224.8 L1058.4,222.1 L1057.2,219.4 L1055.8,216.7 L1054.3,214.2 L1052.6,211.8 L1050.6,209.4 L1048.6,207.2 L1046.3,205.2 L1043.9,203.2 L1041.3,201.5 L1038.6,199.9 L1035.8,198.5 L1032.9,197.3 L1029.9,196.3 L1026.8,195.5 L1023.6,194.9 L1020.4,194.6 L1017.1,194.5 L1013.8,194.6 L1010.6,194.9 L1007.3,195.5 L1004.0,196.3 L1000.8,197.3 L997.7,198.6 L994.6,200.1 L991.7,201.8 L988.8,203.7 L986.1,205.9 L983.5,208.2 L981.1,210.7 L978.8,213.5 L976.7,216.3 L974.8,219.4 L973.2,222.6 L971.7,225.9 L970.5,229.3 L969.5,232.8 L968.8,236.4 L968.3,240.1 L968.1,243.8 L968.1,247.5 L968.4,251.3 L968.9,255.0 L969.8,258.7 L970.8,262.4 L972.2,266.0 L973.8,269.5 L975.7,272.9 L977.8,276.2 L980.1,279.3 L982.7,282.3 L985.5,285.1 L988.5,287.7 L991.7,290.2 L995.0,292.4 L998.6,294.3 L1002.2,296.1 L1006.0,297.5 L1010.0,298.8 L1014.0,299.7 L1018.1,300.3 L1022.2,300.7 L1026.4,300.8 L1030.6,300.6 L1034.8,300.1 L1039.0,299.2 L1043.1,298.1 L1047.2,296.7 L1051.2,295.0 L1055.0,293.1 L1058.7,290.8 L1062.3,288.3 L1065.7,285.5 L1069.0,282.5 L1072.0,279.3 L1074.8,275.8 L1077.3,272.1 L1079.6,268.2 L1081.6,264.2 L1083.4,260.0 L1084.9,255.7 L1086.0,251.3 L1086.9,246.7 L1087.4,242.2 L1087.6,237.5 L1087.5,232.9 L1087.1,228.2 L1086.3,223.6 L1085.2,219.0 L1083.8,214.4 L1082.1,210.0 L1080.0,205.7 L1077.6,201.5 L1075.0,197.5 L1072.0,193.6 L1068.8,190.0 L1065.3,186.5 L1061.6,183.4 L1057.6,180.4 L1053.4,177.8 L1049.0,175.4 L1044.5,173.4 L1039.8,171.6 L1035.0,170.2 L1030.0,169.1 L1025.0,168.4 L1019.9,168.0 L1014.8,168.0 L1009.7,168.3 L1004.6,169.0 L999.5,170.0 L994.5,171.4 L989.6,173.2 L984.8,175.3 L980.1,177.8 L975.7,180.6 L971.4,183.7 L967.3,187.1 L963.4,190.8 L959.8,194.7 L956.5,199.0 L953.5,203.4 L950.7,208.1 L948.3,213.0 L946.3,218.1 L944.6,223.3 L943.2,228.7 L942.3,234.1 L941.7,239.6 L941.5,245.2 L941.7,250.8 L942.3,256.3 L943.2,261.9 L944.6,267.4 L946.4,272.8 L948.5,278.0 L951.0,283.2 L953.9,288.1 L957.1,292.9 L960.7,297.5 L964.5,301.8 L968.7,305.8 L973.2,309.5 L978.0,313.0 L982.9,316.1 L988.2,318.8 L993.6,321.2 L999.2,323.2 L1004.9,324.9 L1010.8,326.1 L1016.7,326.9 L1022.7,327.3 L1028.7,327.3 L1034.8,326.8 L1040.8,326.0 L1046.8,324.7" fill="none" stroke="#555" stroke-width="0.6"/>
<path d="M1014.2,245.9 L1014.3,246.6 L1014.5,247.3 L1014.7,247.9 L1015.1,248.6 L1015.4,249.2 L1015.9,249.9 L1016.4,250.5 L1016.9,251.1 L1017.5,251.6 L1018.2,252.1 L1018.9,252.6 L1019.7,253.0 L1020.5,253.4 L1021.4,253.7 L1022.3,254.0 L1023.3,254.2 L1024.3,254.3 L1025.3,254.3 L1026.3,254.3 L1027.3,254.1 L1028.4,253.9 L1029.4,253.7 L1030.5,253.3 L1031.5,252.8 L1032.5,252.3 L1033.5,251.7 L1034.4,251.0 L1035.3,250.2 L1036.2,249.3 L1037.0,248.4 L1037.8,247.4 L1038.5,246.3 L1039.1,245.1 L1039.6,243.9 L1040.1,242.6 L1040.4,241.3 L1040.7,240.0 L1040.9,238.6 L1040.9,237.2 L1040.9,235.7 L1040.8,234.3 L1040.5,232.8 L1040.2,231.3 L1039.7,229.9 L1039.1,228.4 L1038.4,227.0 L1037.6,225.7 L1036.7,224.3 L1035.7,223.1 L1034.6,221.9 L1033.4,220.7 L1032.1,219.7 L1030.7,218.7 L1029.2,217.8 L1027.6,217.0 L1026.0,216.3 L1024.3,215.8 L1022.5,215.3 L1020.7,215.0 L1018.9,214.8 L1017.0,214.7 L1015.1,214.8 L1013.2,215.0 L1011.3,215.3 L1009.5,215.8 L1007.6,216.4 L1005.7,217.2 L1003.9,218.1 L1002.2,219.1 L1000.5,220.3 L998.9,221.6 L997.3,223.0 L995.9,224.6 L994.6,226.2 L993.3,228.0 L992.2,229.9 L991.2,231.8 L990.4,233.9 L989.7,236.0 L989.1,238.2 L988.7,240.4 L988.4,242.7 L988.3,245.0 L988.4,247.4 L988.6,249.7 L989.0,252.1 L989.6,254.4 L990.4,256.7 L991.3,259.0 L992.4,261.2 L993.6,263.3 L995.0,265.4 L996.6,267.4 L998.3,269.3 L1000.2,271.0 L1002.2,272.7 L1004.3,274.2 L1006.5,275.6 L1008.9,276.8 L1011.3,277.8 L1013.9,278.7 L1016.5,279.4 L1019.2,280.0 L1021.9,280.3 L1024.7,280.5 L1027.4,280.4 L1030.2,280.2 L1033.0,279.7 L1035.8,279.1 L1038.6,278.2 L1041.3,277.2 L1043.9,276.0 L1046.5,274.5 L1048.9,272.9 L1051.3,271.1 L1053.6,269.1 L1055.7,267.0 L1057.7,264.7 L1059.5,262.2 L1061.1,259.6 L1062.6,256.9 L1063.9,254.1 L1065.0,251.1 L1065.9,248.1 L1066.6,245.0 L1067.0,241.8 L1067.3,238.6 L1067.3,235.3 L1067.1,232.1 L1066.6,228.8 L1065.9,225.6 L1065.0,222.4 L1063.9,219.3 L1062.5,216.2 L1060.9,213.2 L1059.1,210.3 L1057.1,207.5 L1054.9,204.9 L1052.5,202.4 L1049.9,200.1 L1047.1,197.9 L1044.2,196.0 L1041.1,194.2 L1037.9,192.6 L1034.5,191.3 L1031.1,190.2 L1027.5,189.4 L1023.9,188.7 L1020.3,188.4 L1016.6,188.3 L1012.9,188.4 L1009.2,188.9 L1005.5,189.5 L1001.8,190.5 L998.2,191.7 L994.7,193.2 L991.3,194.9 L987.9,196.8 L984.7,199.1 L981.7,201.5 L978.8,204.1 L976.1,207.0 L973.6,210.1 L971.3,213.3 L969.2,216.8 L967.4,220.3 L965.8,224.1 L964.5,227.9 L963.4,231.8 L962.6,235.9 L962.1,240.0 L961.9,244.1 L961.9,248.3 L962.3,252.5 L962.9,256.6 L963.9,260.7 L965.1,264.8 L966.7,268.8 L968.5,272.7 L970.6,276.4 L973.0,280.1 L975.6,283.5 L978.5,286.8 L981.6,289.9 L984.9,292.8 L988.5,295.5 L992.2,297.9 L996.1,300.1 L1000.2,301.9 L1004.4,303.5 L1008.8,304.8 L1013.2,305.8 L1017.8,306.5 L1022.4,306.9 L1027.0,307.0 L1031.6,306.7 L1036.2,306.1 L1040.8,305.2" fill="none" stroke="#555" stroke-width="0.6"/>
<circle cx="1022" cy="234.5" r="11.5" fill="none" stroke="#888" stroke-width="0.7"/>
<path d="M1031.8,235.6 L1031.6,235.2 L1031.4,234.8 L1031.1,234.4 L1030.9,234.1 L1030.6,233.7 L1030.2,233.4 L1029.9,233.0 L1029.5,232.7 L1029.0,232.4 L1028.6,232.2 L1028.1,231.9 L1027.6,231.7 L1027.1,231.5 L1026.6,231.3 L1026.0,231.2 L1025.4,231.1 L1024.8,231.0 L1024.2,230.9 L1023.6,230.9 L1023.0,231.0 L1022.3,231.0 L1021.7,231.2 L1021.1,231.3 L1020.4,231.5 L1019.8,231.7 L1019.1,232.0 L1018.5,232.3 L1017.9,232.7 L1017.2,233.1 L1016.6,233.5 L1016.1,234.0 L1015.5,234.5 L1015.0,235.0 L1014.5,235.6 L1014.0,236.3 L1013.5,236.9 L1013.1,237.6 L1012.7,238.4 L1012.3,239.1 L1012.0,239.9 L1011.8,240.7 L1011.5,241.6 L1011.3,242.5 L1011.2,243.3 L1011.1,244.2 L1011.1,245.2 L1011.1,246.1 L1011.2,247.0 L1011.3,248.0 L1011.4,248.9 L1011.7,249.9 L1012.0,250.8 L1012.3,251.8 L1012.7,252.7 L1013.1,253.6 L1013.6,254.5 L1014.2,255.4 L1014.8,256.3 L1015.5,257.1 L1016.2,257.9 L1016.9,258.7 L1017.8,259.4 L1018.6,260.1 L1019.5,260.8 L1020.5,261.4 L1021.5,262.0 L1022.5,262.5 L1023.6,262.9 L1024.7,263.3 L1025.8,263.7 L1027.0,264.0 L1028.2,264.2 L1029.4,264.4 L1030.6,264.5 L1031.9,264.5 L1033.2,264.5 L1034.4,264.4 L1035.7,264.2 L1037.0,264.0 L1038.2,263.7 L1039.5,263.3 L1040.7,262.8 L1042.0,262.3 L1043.2,261.7 L1044.4,261.1 L1045.6,260.3 L1046.7,259.5 L1047.8,258.7 L1048.8,257.7 L1049.8,256.7 L1050.8,255.7 L1051.7,254.6 L1052.6,253.4 L1053.4,252.2 L1054.1,250.9 L1054.8,249.6 L1055.4,248.2 L1056.0,246.8 L1056.4,245.3 L1056.8,243.8 L1057.1,242.3 L1057.4,240.8 L1057.5,239.2 L1057.6,237.6 L1057.6,236.0 L1057.5,234.4 L1057.3,232.8 L1057.0,231.2 L1056.7,229.6 L1056.2,228.1 L1055.7,226.5 L1055.0,224.9 L1054.3,223.4 L1053.5,221.9 L1052.7,220.4 L1051.7,219.0 L1050.7,217.6 L1049.5,216.3 L1048.3,215.0 L1047.1,213.8 L1045.7,212.6 L1044.3,211.6 L1042.8,210.5 L1041.3,209.6 L1039.7,208.7 L1038.0,207.9 L1036.3,207.2 L1034.5,206.6 L1032.7,206.1 L1030.9,205.7 L1029.1,205.3 L1027.2,205.1 L1025.3,204.9 L1023.3,204.9 L1021.4,205.0 L1019.5,205.1 L1017.5,205.4 L1015.6,205.8 L1013.6,206.3 L1011.7,206.9 L1009.9,207.6 L1008.0,208.4 L1006.2,209.2 L1004.4,210.2 L1002.7,211.3 L1001.0,212.5 L999.4,213.8 L997.8,215.2 L996.3,216.7 L994.9,218.2 L993.5,219.9 L992.2,221.6 L991.1,223.4 L990.0,225.2 L989.0,227.2 L988.1,229.2 L987.3,231.2 L986.6,233.3 L986.0,235.4 L985.5,237.6 L985.2,239.8 L984.9,242.0 L984.8,244.3 L984.8,246.6 L984.9,248.9 L985.2,251.1 L985.5,253.4 L986.0,255.7 L986.6,257.9 L987.3,260.2 L988.2,262.4 L989.1,264.5 L990.2,266.6 L991.4,268.7 L992.7,270.7 L994.2,272.7 L995.7,274.5 L997.3,276.3 L999.1,278.1 L1000.9,279.7 L1002.8,281.2 L1004.9,282.7 L1007.0,284.0 L1009.1,285.3 L1011.4,286.4 L1013.7,287.4 L1016.1,288.3 L1018.5,289.0 L1021.0,289.7 L1023.5,290.2 L1026.1,290.6 L1028.7,290.8 L1031.3,290.9 L1033.9,290.9 L1036.5,290.7 L1039.1,290.4 L1041.8,290.0 L1044.4,289.4 L1046.9,288.7 L1049.5,287.8 L1052.0,286.8 L1054.4,285.7 L1056.9,284.4 L1059.2,283.0 L1061.5,281.4 L1063.7,279.8 L1065.8,278.0 L1067.9,276.1 L1069.8,274.1 L1071.6,272.0 L1073.4,269.8 L1075.0,267.5 L1076.5,265.1 L1077.9,262.6 L1079.1,260.0 L1080.2,257.3 L1081.2,254.6 L1082.1,251.8 L1082.8,249.0 L1083.3,246.2 L1083.7,243.3 L1084.0,240.3 L1084.1,237.4 L1084.0,234.4 L1083.8,231.4 L1083.4,228.5 L1082.9,225.5 L1082.2,222.6 L1081.3,219.7 L1080.3,216.8 L1079.2,214.0 L1077.9,211.2 L1076.4,208.5 L1074.8,205.9 L1073.0,203.3 L1071.2,200.9 L1069.1,198.5 L1067.0,196.2 L1064.7,194.1 L1062.3,192.0 L1059.8,190.1 L1057.2,188.3 L1054.5,186.6 L1051.7,185.1 L1048.8,183.7 L1045.8,182.5 L1042.7,181.4 L1039.6,180.5 L1036.5,179.7 L1033.2,179.2 L1030.0,178.7 L1026.7,178.5 L1023.4,178.4 L1020.1,178.5 L1016.8,178.8 L1013.5,179.2 L1010.2,179.8 L1006.9,180.6 L1003.7,181.6 L1000.5,182.8 L997.4,184.1 L994.3,185.5 L991.3,187.2 L988.4,189.0 L985.6,191.0 L982.8,193.1 L980.2,195.3 L977.7,197.8 L975.3,200.3 L973.1,203.0 L971.0,205.8 L969.0,208.7 L967.2,211.7 L965.5,214.8 L964.0,218.1 L962.6,221.4 L961.5,224.8 L960.5,228.2 L959.7,231.7 L959.0,235.3 L958.6,238.9 L958.3,242.5 L958.3,246.2 L958.4,249.8 L958.7,253.5 L959.2,257.1 L960.0,260.8 L960.9,264.4 L961.9,267.9 L963.2,271.4 L964.7,274.9 L966.3,278.2 L968.2,281.5 L970.2,284.7 L972.4,287.8 L974.7,290.8 L977.2,293.7 L979.9,296.4 L982.7,299.0 L985.7,301.5 L988.8,303.8 L992.0,305.9 L995.3,307.9 L998.7,309.7 L1002.3,311.4 L1005.9,312.8 L1009.7,314.1 L1013.4,315.2 L1017.3,316.0 L1021.2,316.7 L1025.2,317.2 L1029.1,317.4 L1033.1,317.5 L1037.1,317.3" fill="none" stroke="#000" stroke-width="7.2" stroke-linecap="round"/>
<rect x="1027.7" y="309.4" width="18" height="3.7" rx="1.6" fill="#0ee8e2"/>
<rect x="1027.7" y="323.3" width="18" height="3.5" rx="1.6" fill="#0ee8e2"/>
<circle cx="1055.3" cy="318.1" r="13.4" fill="#0ee8e2" stroke="#ececec" stroke-width="1"/>
<path d="M1068.9,321.3 L1084.3,314.9 L1080.8,321.6 L1096,323 L1094.2,327 L1096,331.5 L1080,326.8 L1081.5,332.6 Z" fill="#0ee8e2"/>
<path d="M1084.6,314.4 L1082.2,317.6 M1079.3,328.5 L1081.8,333.4" stroke="#1a1a1a" stroke-width="0.8" fill="none"/>
<line x1="849.5" y1="166" x2="932" y2="209" stroke="#c3c3c3" stroke-width="1.6"/>
<line x1="1023.5" y1="236.5" x2="1141.5" y2="188.2" stroke="#c3c3c3" stroke-width="1.6"/>
<line x1="1063.5" y1="315" x2="1131" y2="327.5" stroke="#c3c3c3" stroke-width="1.6"/>
<line x1="884.5" y1="336.2" x2="971.2" y2="290.5" stroke="#c3c3c3" stroke-width="1.6"/>
<rect x="1150" y="166.5" width="116" height="31.5" fill="#fff"/>
<text x="803.6" y="155.5" class="t" font-size="16.7" fill="#0a0a14">Fixed scroll</text>
<text x="1152.8" y="187.8" class="t" font-size="16.7" fill="#0a0a14">Discharge port</text>
<text x="1143.8" y="337" class="t" font-size="16.7" fill="#0a0a14">Suction port</text>
<text x="808.8" y="357.5" class="t" font-size="16.7" fill="#0a0a14">Orbiting scroll</text>
<rect x="0" y="16" width="280.5" height="51.8" fill="#ff0000"/>
<text x="140" y="37" class="t" font-size="16.9" font-weight="bold" fill="#000" text-anchor="middle">Discharge port</text>
<text x="140" y="58.2" class="t" font-size="16.9" font-weight="bold" fill="#000" text-anchor="middle">(high temp., high pressure, gas)</text>
<rect x="520" y="502" width="266.5" height="51.4" fill="#00ffff"/>
<text x="654" y="523.2" class="t" font-size="16.9" font-weight="bold" fill="#000" text-anchor="middle">Suction port</text>
<text x="654" y="544.4" class="t" font-size="16.9" font-weight="bold" fill="#000" text-anchor="middle">(low temp., low pressure, gas)</text>
<circle cx="1266.5" cy="606.5" r="1.6" fill="#0000ff"/>
</svg>
</body></html>
